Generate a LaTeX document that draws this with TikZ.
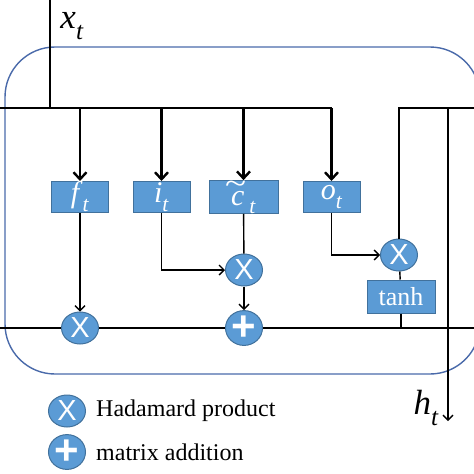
\documentclass[tikz,border=0pt]{standalone}
\usepackage{fontspec}
\setmainfont{Liberation Serif}
\newfontfamily\gatefont{Liberation Sans}
\usetikzlibrary{arrows.meta,%
                shapes.geometric,%
                positioning}
\definecolor{gateblue}{RGB}{91,155,213}
\definecolor{gateedge}{RGB}{65,113,156}
\definecolor{celledge}{RGB}{74,106,170}
\newcommand{\vsub}[2]{\textit{#1}\raisebox{-0.3em}{\scalebox{0.72}{\textit{#2}}}}
\newcommand{\ctilde}{\textit{c}\llap{\raisebox{0.42em}{\scalebox{1.3}[1]{\textasciitilde}}\hspace{-0.06em}}}
\tikzset{gatebox/.style={
			  rectangle,
			  minimum width   = 57pt,
			  minimum height  = 31pt,
			  inner sep       = 0pt,
			  line width      = 1pt,
			  draw            = gateedge,
			  fill            = gateblue,
			  text            = white,
			  font            = \fontsize{30}{30}\selectfont
			}}
\tikzset{opnode/.style={
			  ellipse,
			  minimum width   = 37pt,
			  minimum height  = 32pt,
			  inner sep       = 0pt,
			  line width      = 1pt,
			  draw            = gateedge,
			  fill            = gateblue,
			  text            = white,
			  font            = \gatefont\fontsize{29}{29}\selectfont
			}}
\tikzset{plusnode/.style={
			  opnode,
			  font            = \gatefont\bfseries\fontsize{42}{42}\selectfont
			}}
\tikzset{legtext/.style={
			  anchor          = west,
			  inner sep       = 0pt,
			  font            = \fontsize{24}{24}\selectfont
			}}
\tikzset{varlabel/.style={
			  inner sep       = 0pt,
			  font            = \fontsize{35}{35}\selectfont
			}}
\tikzset{thickline/.style={line width=2.4pt}}
\tikzset{thinline/.style={line width=1.4pt}}
\tikzset{thinarrow/.style={thinline, -{Straight Barb[length=5pt,width=10pt]}}}

\begin{document}
\begin{tikzpicture}[x=1pt, y=-1pt, >={Straight Barb[length=7pt,width=13pt]}]

    \useasboundingbox (0,0) rectangle (474,474);

    % cell frame
    \draw [celledge, line width=1.4pt, rounded corners=50pt] (5,47) rectangle (480,374);

    \coordinate (xin)    at (50,0);
    \coordinate (xjoin)  at (50,108);
    \coordinate (leftin) at (0,108);
    \coordinate (split)  at (331.5,108);
    \coordinate (cellin) at (0,328);
    \coordinate (cellout) at (474,328);
    \coordinate (hright) at (474,108);
    \coordinate (hsplit) at (448,108);
    \coordinate (hout)   at (448,421);

    \node (ft)   [gatebox]                      at (80,197)    {\vsub{f}{t}};
    \node (it)   [gatebox]                      at (161.5,197) {\vsub{i}{t}};
    \node (ct)   [gatebox, minimum width=69pt]  at (243.5,197) {\ctilde\,\raisebox{-0.25em}{\scalebox{0.72}{\textit{t}}}};
    \node (ot)   [gatebox]                      at (331.5,197) {\vsub{o}{t}};

    \node (mulf) [opnode]   at (80,328)  {X};
    \node (muli) [opnode]   at (244,270) {X};
    \node (add)  [plusnode] at (244,328) {+};
    \node (mulo) [opnode]   at (399,255) {X};
    \node (tanh) [gatebox, minimum width=68pt, minimum height=33pt,
                  font=\fontsize{26}{26}\selectfont] at (401,296.5) {tanh};

    \node (xt) [varlabel] at (72,26)   {\vsub{x}{t}};
    \node (ht) [varlabel] at (426,408) {\vsub{h}{t}};

    % legend
    \node (hadop)   [opnode]   at (67,411) {X};
    \node (addop)   [plusnode] at (67,452) {+};
    \node (hadtext) [legtext, right=10pt of hadop] {Hadamard product};
    \node (addtext) [legtext, right=10pt of addop] {matrix addition};

    \draw [thinline]     (xin)    -- (xjoin);
    \draw [thickline]    (leftin) -- (split);
    \draw [thickline,->] (ft |- split) -- (ft);
    \draw [thickline,->] (it |- split) -- (it);
    \draw [thickline,->] (ct |- split) -- (ct);
    \draw [thickline,->] (split)  -- (ot);

    \draw [thinarrow]    (ft)   -- (mulf);
    \draw [thinarrow]    (it)   |- (muli);
    \draw [thinline]     (ct)   -- (muli);
    \draw [thinarrow]    (muli) -- (add);
    \draw [thinarrow]    (ot)   |- (mulo);
    \draw [thinline]     (tanh) -- (mulo);
    \draw [thickline]    (tanh) -- (tanh |- cellin);
    \draw [thickline]    (cellin) -- (mulf) -- (add) -- (cellout);
%
    \draw [thickline]    (mulo) -- (mulo |- hright) -- (hright);
    \draw [thinarrow]    (hsplit) -- (hout);

\end{tikzpicture}
\end{document}
